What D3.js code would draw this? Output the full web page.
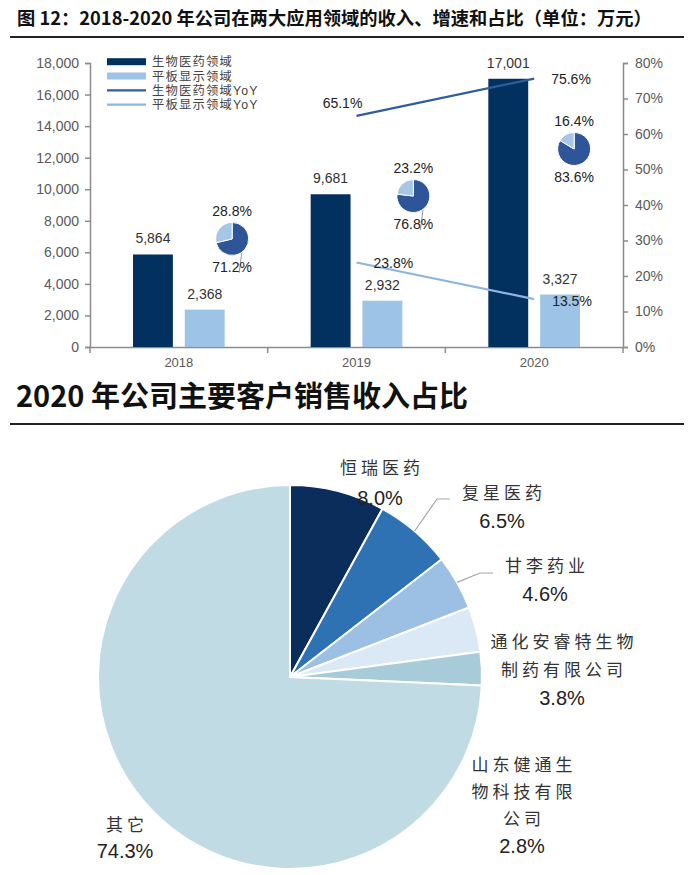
<!DOCTYPE html>
<html><head><meta charset="utf-8">
<script src="https://cdn.jsdelivr.net/npm/d3@7"></script>
<style>body{margin:0;background:#fff}svg{display:block}</style>
</head><body>
<svg id="c" width="696" height="875"></svg>
<script>
// ---------- DATA ----------
const years = ["2018", "2019", "2020"];
const bioRevenue = [5864, 9681, 17001];
const panelRevenue = [2368, 2932, 3327];
const bioYoY = [null, 0.651, 0.756];
const panelYoY = [null, 0.238, 0.135];
const bioShare = [0.712, 0.768, 0.836];
const panelShare = [0.288, 0.232, 0.164];
const leftTicks = [0, 2000, 4000, 6000, 8000, 10000, 12000, 14000, 16000, 18000];
const rightTicks = [0, 0.1, 0.2, 0.3, 0.4, 0.5, 0.6, 0.7, 0.8];
const legendNames = ["生物医药领域", "平板显示领域", "生物医药领域YoY", "平板显示领域YoY"];

const customers = ["恒瑞医药", "复星医药", "甘李药业", "通化安睿特生物制药有限公司", "山东健通生物科技有限公司", "其它"];
const customerShare = [8.0, 6.5, 4.6, 3.8, 2.8, 74.3];
const customerLabelLines = [["恒瑞医药"], ["复星医药"], ["甘李药业"], ["通化安睿特生物", "制药有限公司"], ["山东健通生", "物科技有限", "公司"], ["其它"]];

// ---------- STYLE ----------
const CJK = "'Noto Sans CJK SC', sans-serif";
const LAT = "'Liberation Sans', Arial, 'Noto Sans CJK SC', sans-serif";
const darkBar = "#03315f", lightBar = "#9dc3e6";
const darkLine = "#2f5d9c", lightLine = "#8fb4e0";
const pieDark = "#2e5597", pieLight = "#a6c6e8";
const custColors = ["#0b2d5b", "#2e72b3", "#9cc0e3", "#dbe8f5", "#a8cbd9", "#c1dbe5"];

const svg = d3.select("#c");

// ---------- TITLE 1 ----------
svg.append("text").attr("x", 17).attr("y", 25)
  .attr("font-family", CJK).attr("font-weight", 700).attr("font-size", 18.3).attr("fill", "#111")
  .text("图 12：2018-2020 年公司在两大应用领域的收入、增速和占比（单位：万元）");
svg.append("line").attr("x1", 10).attr("x2", 684).attr("y1", 37).attr("y2", 37)
  .attr("stroke", "#222").attr("stroke-width", 2);

// ---------- COMBO CHART ----------
const x0 = d3.scaleBand().domain(years).range([90, 623]).padding(0);
const bw = x0.bandwidth();
const x1 = d3.scaleBand().domain(["bio", "panel"]).range([bw * 0.242, bw * 0.758]).paddingInner(0.23);
const yL = d3.scaleLinear().domain([0, 18000]).range([347, 63]);
const yR = d3.scaleLinear().domain([0, 0.8]).range([347, 63]);
const axisCol = "#8c8c8c";

const gL = svg.append("g").attr("transform", "translate(90,0)")
  .call(d3.axisLeft(yL).tickValues(leftTicks).tickSize(5).tickPadding(6).tickFormat(d3.format(",")));
const gR = svg.append("g").attr("transform", "translate(623,0)")
  .call(d3.axisRight(yR).tickValues(rightTicks).tickSize(5).tickPadding(7).tickFormat(d3.format(".0%")));
const gX = svg.append("g").attr("transform", "translate(0,347)")
  .call(d3.axisBottom(x0).tickSize(0).tickPadding(11));
[gL, gR, gX].forEach(g => {
  g.selectAll("path.domain").attr("stroke", axisCol).attr("stroke-width", 1.5);
  g.selectAll(".tick line").attr("stroke", axisCol).attr("stroke-width", 1.5);
  g.selectAll("text").attr("font-family", LAT).attr("font-size", 14).attr("fill", "#595959");
});
gX.selectAll("text").attr("font-size", 13);
// category separators on x axis
svg.append("g").selectAll("line").data([...years.map(y => x0(y)), 623]).join("line")
  .attr("x1", d => d).attr("x2", d => d).attr("y1", 347).attr("y2", 353)
  .attr("stroke", axisCol).attr("stroke-width", 1.5);

// bars
const barData = years.flatMap((yr, i) => [
  { yr, key: "bio", v: bioRevenue[i], c: darkBar },
  { yr, key: "panel", v: panelRevenue[i], c: lightBar }
]);
svg.append("g").selectAll("rect").data(barData).join("rect")
  .attr("x", d => x0(d.yr) + x1(d.key)).attr("width", x1.bandwidth())
  .attr("y", d => yL(d.v)).attr("height", d => yL(0) - yL(d.v)).attr("fill", d => d.c);
svg.append("g").selectAll("text").data(barData).join("text")
  .attr("x", d => x0(d.yr) + x1(d.key) + x1.bandwidth() / 2).attr("y", d => yL(d.v) - 11)
  .attr("text-anchor", "middle").attr("font-family", LAT).attr("font-size", 14).attr("fill", "#333")
  .text(d => d3.format(",")(d.v));

// YoY lines
const cx = yr => x0(yr) + bw / 2;
function yoyLine(vals, col, labelOffsets) {
  const pts = years.map((yr, i) => ({ yr, v: vals[i], i })).filter(d => d.v != null);
  svg.append("path").datum(pts)
    .attr("d", d3.line().x(d => cx(d.yr)).y(d => yR(d.v)))
    .attr("fill", "none").attr("stroke", col).attr("stroke-width", 2.2);
  svg.append("g").selectAll("text").data(pts).join("text")
    .attr("x", (d, k) => cx(d.yr) + labelOffsets[k][0]).attr("y", (d, k) => yR(d.v) + labelOffsets[k][1])
    .attr("text-anchor", (d, k) => labelOffsets[k][2])
    .attr("font-family", LAT).attr("font-size", 14).attr("fill", "#222")
    .text(d => d3.format(".1f")(d.v * 100) + "%");
}
yoyLine(bioYoY, darkLine, [[-14, -8, "middle"], [17, 5, "start"]]);
yoyLine(panelYoY, lightLine, [[17, 5, "start"], [18, 7, "start"]]);

// mini share pies (anchored in data space)
const miniAnchor = [[0.80, 6850], [0.82, 9570], [0.725, 12550]];
const miniArc = d3.arc().innerRadius(0).outerRadius(16.5);
const miniPie = d3.pie().sort(null).value(d => d);
years.forEach((yr, i) => {
  const px = x0(yr) + bw * miniAnchor[i][0], py = yL(miniAnchor[i][1]);
  const g = svg.append("g").attr("transform", `translate(${px},${py})`);
  if (i < 2) {
    g.append("line").attr("x1", 10).attr("y1", 11).attr("x2", 7).attr("y2", 34)
      .attr("stroke", "#9a9a9a").attr("stroke-width", 1);
  }
  g.selectAll("path").data(miniPie([bioShare[i], panelShare[i]])).join("path")
    .attr("d", miniArc).attr("fill", (d, k) => k === 0 ? pieDark : pieLight)
    .attr("stroke", "#fff").attr("stroke-width", 1);
  g.append("text").attr("x", 0).attr("y", -23).attr("text-anchor", "middle")
    .attr("font-family", LAT).attr("font-size", 14).attr("fill", "#222")
    .text(d3.format(".1f")(panelShare[i] * 100) + "%");
  g.append("text").attr("x", 0).attr("y", 33).attr("text-anchor", "middle")
    .attr("font-family", LAT).attr("font-size", 14).attr("fill", "#222")
    .text(d3.format(".1f")(bioShare[i] * 100) + "%");
});

// legend
const legendStyles = [
  { type: "rect", c: darkBar }, { type: "rect", c: lightBar },
  { type: "line", c: darkLine }, { type: "line", c: lightLine }
];
const lg = svg.append("g").selectAll("g").data(legendNames).join("g")
  .attr("transform", (d, i) => `translate(107,${61.7 + i * 14.3})`);
lg.each(function (d, i) {
  const g = d3.select(this), s = legendStyles[i];
  if (s.type === "rect") g.append("rect").attr("x", 0).attr("y", -3.5).attr("width", 39).attr("height", 7).attr("fill", s.c);
  else g.append("line").attr("x1", 0).attr("x2", 39).attr("y1", 0).attr("y2", 0).attr("stroke", s.c).attr("stroke-width", 2.2);
  g.append("text").attr("x", 45).attr("y", 4.5).attr("font-family", LAT).attr("font-size", 12.3)
    .attr("letter-spacing", 1.2).attr("fill", "#444").text(d);
});

// ---------- TITLE 2 ----------
svg.append("text").attr("x", 16).attr("y", 407)
  .attr("font-family", CJK).attr("font-weight", 700).attr("font-size", 29).attr("fill", "#111")
  .text("2020 年公司主要客户销售收入占比");
svg.append("line").attr("x1", 10).attr("x2", 684).attr("y1", 424).attr("y2", 424)
  .attr("stroke", "#222").attr("stroke-width", 2);

// ---------- CUSTOMER PIE ----------
const PC = [290, 677], R = 192;
const pie = d3.pie().sort(null).value(d => d)(customerShare);
const arc = d3.arc().innerRadius(0).outerRadius(R);
const pg = svg.append("g").attr("transform", `translate(${PC[0]},${PC[1]})`);
pg.selectAll("path").data(pie).join("path")
  .attr("d", arc).attr("fill", (d, i) => custColors[i]).attr("stroke", "#fff").attr("stroke-width", 2);

// label placements (relative to pie centre): [dx, dy of first line centre]
const labelPlace = [[90, -209], [212, -184], [255, -111], [272, -35], [232, 88], [-165, 148]];
const lineGap = [30, 28, 28, 28, 27, 26];
pie.forEach((d, i) => {
  const [dx, dy] = labelPlace[i];
  const lines = customerLabelLines[i];
  const g = pg.append("g");
  lines.forEach((t, k) => {
    g.append("text").attr("x", dx + 2).attr("y", dy + k * lineGap[i] + 6)
      .attr("text-anchor", "middle").attr("font-family", CJK).attr("font-size", 17)
      .attr("letter-spacing", 4).attr("fill", "#333").text(t);
  });
  g.append("text").attr("x", dx).attr("y", dy + lines.length * lineGap[i] + 7)
    .attr("text-anchor", "middle").attr("font-family", LAT).attr("font-size", 20)
    .attr("fill", "#222").text(d3.format(".1f")(customerShare[i]) + "%");
});
// leader lines for 复星医药 and 甘李药业
[[1, [147, -178], [160, -178]], [2, [190, -104], [203, -104]]].forEach(([i, elbow, end]) => {
  const a = (pie[i].startAngle + pie[i].endAngle) / 2;
  const sx = R * Math.sin(a), sy = -R * Math.cos(a);
  pg.append("polyline").attr("points", `${sx},${sy} ${elbow[0]},${elbow[1]} ${end[0]},${end[1]}`)
    .attr("fill", "none").attr("stroke", "#a6a6a6").attr("stroke-width", 1.2);
});
</script>
</body></html>
